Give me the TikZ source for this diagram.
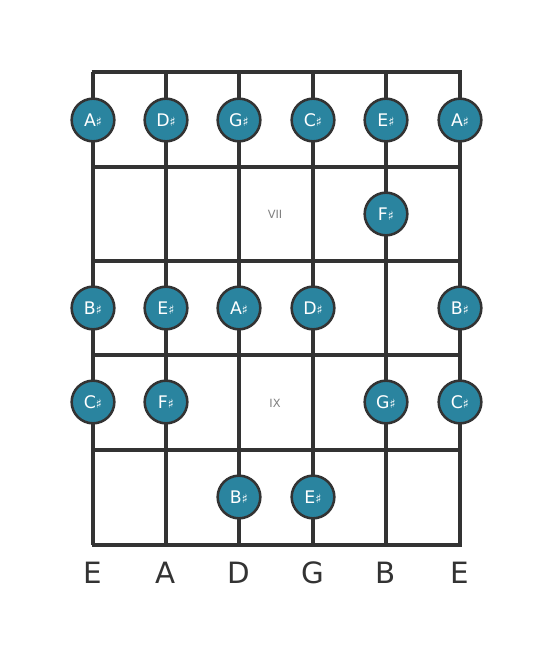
\documentclass[tikz,border=0pt]{standalone}
\usepackage{fontspec}
\setmainfont{DejaVu Sans}
\definecolor{dotblue}{HTML}{2A849F}
\definecolor{wire}{HTML}{333333}
\tikzset{
    note/.style={circle,draw=wire,line width=1.9pt,fill=dotblue,minimum size=32pt,inner sep=0pt,text=white,font=\fontsize{13}{13}\selectfont},
    fretno/.style={text=gray,font=\fontsize{8.5}{9}\selectfont},
    strname/.style={text=wire,font=\fontsize{22}{22}\selectfont}
}
\newcommand{\shp}{{\fontsize{9.5}{9.5}\selectfont ♯}}
\begin{document}
\begin{tikzpicture}[x=0.75pt, y=-0.75pt]
    \useasboundingbox[fill=white] (0,0) rectangle (553,656);

    % strings
    \foreach \x [count=\i] in {93,166,239,313,386,460}
    \draw[wire, line width=2.3pt] (\x,72) coordinate (s\i top) -- (\x,545) coordinate (s\i bot);
    % frets
    \foreach \y [count=\j] in {72,167,261,355,450,545}
    \draw[wire, line width=3.4pt] (91.5,\y) coordinate (f\j l) -- (461.5,\y) coordinate (f\j r);

    % position marks
    \node[fretno] (vii) at (275,214) {VII};
    \node[fretno] (ix) at (275,403) {IX};

    % notes
    \node[note] (a1) at (93,120) {A\shp};
    \node[note] (a2) at (166,120) {D\shp};
    \node[note] (a3) at (239,120) {G\shp};
    \node[note] (a4) at (313,120) {C\shp};
    \node[note] (a5) at (386,120) {E\shp};
    \node[note] (a6) at (460,120) {A\shp};

    \node[note] (b5) at (386,214) {F\shp};

    \node[note] (c1) at (93,308) {B\shp};
    \node[note] (c2) at (166,308) {E\shp};
    \node[note] (c3) at (239,308) {A\shp};
    \node[note] (c4) at (313,308) {D\shp};
    \node[note] (c6) at (460,308) {B\shp};

    \node[note] (d1) at (93,402) {C\shp};
    \node[note] (d2) at (166,402) {F\shp};
    \node[note] (d5) at (386,402) {G\shp};
    \node[note] (d6) at (460,402) {C\shp};

    \node[note] (e3) at (239,497) {B\shp};
    \node[note] (e4) at (313,497) {E\shp};

    % open strings
    \foreach \x/\s [count=\i] in {93/E,166/A,239/D,313/G,386/B,460/E}
    \node[strname] (open\i) at (\x,573) {\s};
\end{tikzpicture}
\end{document}
